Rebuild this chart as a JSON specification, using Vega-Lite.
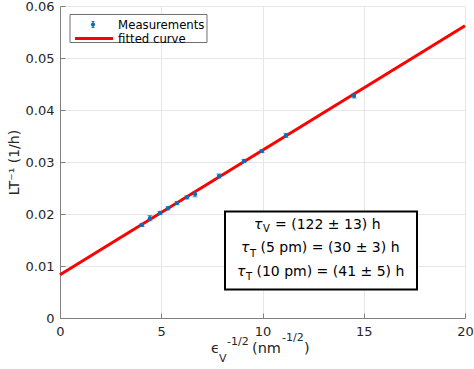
{
  "$schema": "https://vega.github.io/schema/vega-lite/v6.json",
  "width": 405,
  "height": 312,
  "autosize": {"type": "none"},
  "padding": {"left": 60, "top": 6, "right": 9, "bottom": 51},
  "background": "white",
  "config": {
    "font": "DejaVu Sans",
    "view": {"stroke": null},
    "axis": {
      "grid": true,
      "gridColor": "#e6e6e6",
      "domainColor": "#808080",
      "tickColor": "#808080",
      "tickSize": -5,
      "labelFontSize": 13,
      "labelColor": "#262626",
      "labelFlush": false,
      "labelOverlap": false,
      "titleFontSize": 14,
      "titleFontWeight": "normal",
      "titleColor": "#262626"
    }
  },
  "data": {"values": [
    {"x": 4.05, "y": 0.0179, "err": 0.0003},
    {"x": 4.44, "y": 0.0192, "err": 0.0005},
    {"x": 4.94, "y": 0.0202, "err": 0.0003},
    {"x": 5.33, "y": 0.0211, "err": 0.0003},
    {"x": 5.78, "y": 0.0221, "err": 0.0003},
    {"x": 6.27, "y": 0.0232, "err": 0.0003},
    {"x": 6.67, "y": 0.0238, "err": 0.0005},
    {"x": 7.85, "y": 0.0273, "err": 0.0004},
    {"x": 9.09, "y": 0.0302, "err": 0.0003},
    {"x": 9.98, "y": 0.0321, "err": 0.0003},
    {"x": 11.16, "y": 0.0351, "err": 0.0004},
    {"x": 14.52, "y": 0.0427, "err": 0.0004}
  ]},
  "layer": [
    {
      "data": {"values": [{"x": 0, "y": 0.0083}, {"x": 20, "y": 0.0562}]},
      "mark": {"type": "line", "color": "#ff0000", "strokeWidth": 3},
      "encoding": {
        "x": {"field": "x", "type": "quantitative", "scale": {"domain": [0, 20], "nice": false},
              "axis": {"values": [0, 5, 10, 15, 20], "title": null, "format": "~g", "labelPadding": 12}},
        "y": {"field": "y", "type": "quantitative", "scale": {"domain": [0, 0.06], "nice": false},
              "axis": {"values": [0, 0.01, 0.02, 0.03, 0.04, 0.05, 0.06], "title": "LT⁻¹ (1/h)", "format": "~g", "labelPadding": 11, "titlePadding": 4}}
      }
    },
    {
      "mark": {"type": "errorbar", "ticks": {"size": 5, "color": "#0072BD"}, "color": "#0072BD", "thickness": 1},
      "encoding": {
        "x": {"field": "x", "type": "quantitative", "title": null},
        "y": {"field": "y", "type": "quantitative", "title": "LT⁻¹ (1/h)"},
        "yError": {"field": "err"}
      }
    },
    {
      "mark": {"type": "point", "filled": true, "color": "#0072BD", "size": 18, "opacity": 1},
      "encoding": {
        "x": {"field": "x", "type": "quantitative", "title": null},
        "y": {"field": "y", "type": "quantitative", "title": "LT⁻¹ (1/h)"}
      }
    },
    {
      "data": {"values": [{}]},
      "mark": {"type": "rect", "fill": "white", "stroke": "#707070", "strokeWidth": 1},
      "encoding": {"x": {"datum": 0.494}, "x2": {"datum": 7.259}, "y": {"datum": 0.05837}, "y2": {"datum": 0.05298}}
    },
    {
      "data": {"values": [{}]},
      "mark": {"type": "rule", "color": "#ff0000", "strokeWidth": 3},
      "encoding": {"x": {"datum": 0.741}, "x2": {"datum": 2.617}, "y": {"datum": 0.05375}}
    },
    {
      "data": {"values": [{}]},
      "mark": {"type": "rule", "color": "#0072BD", "strokeWidth": 1},
      "encoding": {"x": {"datum": 1.63}, "y": {"datum": 0.05586}, "y2": {"datum": 0.05702}}
    },
    {
      "data": {"values": [{}]},
      "mark": {"type": "rule", "color": "#0072BD", "strokeWidth": 1},
      "encoding": {"x": {"datum": 1.56}, "x2": {"datum": 1.70}, "y": {"datum": 0.05586}}
    },
    {
      "data": {"values": [{}]},
      "mark": {"type": "rule", "color": "#0072BD", "strokeWidth": 1},
      "encoding": {"x": {"datum": 1.56}, "x2": {"datum": 1.70}, "y": {"datum": 0.05702}}
    },
    {
      "data": {"values": [{}]},
      "mark": {"type": "point", "filled": true, "color": "#0072BD", "size": 18, "opacity": 1},
      "encoding": {"x": {"datum": 1.63}, "y": {"datum": 0.05644}}
    },
    {
      "data": {"values": [{}]},
      "mark": {"type": "text", "text": "Measurements", "align": "left", "baseline": "middle", "fontSize": 11.7, "color": "#000000"},
      "encoding": {"x": {"datum": 2.87}, "y": {"datum": 0.05644}}
    },
    {
      "data": {"values": [{}]},
      "mark": {"type": "text", "text": "fitted curve", "align": "left", "baseline": "middle", "fontSize": 11.7, "color": "#000000"},
      "encoding": {"x": {"datum": 2.87}, "y": {"datum": 0.05375}}
    },
    {
      "data": {"values": [{}]},
      "mark": {"type": "rect", "fill": "white", "stroke": "#000000", "strokeWidth": 2},
      "encoding": {"x": {"datum": 8.148}, "x2": {"datum": 17.63}, "y": {"datum": 0.02048}, "y2": {"datum": 0.00548}}
    },
    {
      "data": {"values": [{}]},
      "mark": {"type": "text", "text": "τ", "align": "left", "baseline": "middle", "fontSize": 14, "fontStyle": "italic", "color": "#000000"},
      "encoding": {"x": {"datum": 9.58}, "y": {"datum": 0.01798}}
    },
    {
      "data": {"values": [{}]},
      "mark": {"type": "text", "text": "V", "align": "left", "baseline": "middle", "fontSize": 10, "color": "#000000"},
      "encoding": {"x": {"datum": 10.02}, "y": {"datum": 0.01702}}
    },
    {
      "data": {"values": [{}]},
      "mark": {"type": "text", "text": "= (122 ± 13) h", "align": "left", "baseline": "middle", "fontSize": 14, "color": "#000000"},
      "encoding": {"x": {"datum": 10.62}, "y": {"datum": 0.01798}}
    },
    {
      "data": {"values": [{}]},
      "mark": {"type": "text", "text": "τ", "align": "left", "baseline": "middle", "fontSize": 14, "fontStyle": "italic", "color": "#000000"},
      "encoding": {"x": {"datum": 8.94}, "y": {"datum": 0.01337}}
    },
    {
      "data": {"values": [{}]},
      "mark": {"type": "text", "text": "T", "align": "left", "baseline": "middle", "fontSize": 10, "color": "#000000"},
      "encoding": {"x": {"datum": 9.38}, "y": {"datum": 0.0124}}
    },
    {
      "data": {"values": [{}]},
      "mark": {"type": "text", "text": "(5 pm) = (30 ± 3) h", "align": "left", "baseline": "middle", "fontSize": 14, "color": "#000000"},
      "encoding": {"x": {"datum": 9.9}, "y": {"datum": 0.01337}}
    },
    {
      "data": {"values": [{}]},
      "mark": {"type": "text", "text": "τ", "align": "left", "baseline": "middle", "fontSize": 14, "fontStyle": "italic", "color": "#000000"},
      "encoding": {"x": {"datum": 8.74}, "y": {"datum": 0.00894}}
    },
    {
      "data": {"values": [{}]},
      "mark": {"type": "text", "text": "T", "align": "left", "baseline": "middle", "fontSize": 10, "color": "#000000"},
      "encoding": {"x": {"datum": 9.18}, "y": {"datum": 0.00798}}
    },
    {
      "data": {"values": [{}]},
      "mark": {"type": "text", "text": "(10 pm) = (41 ± 5) h", "align": "left", "baseline": "middle", "fontSize": 14, "color": "#000000"},
      "encoding": {"x": {"datum": 9.7}, "y": {"datum": 0.00894}}
    },
    {
      "data": {"values": [{}]},
      "mark": {"type": "text", "text": "ϵ", "align": "left", "baseline": "middle", "fontSize": 14, "color": "#262626"},
      "encoding": {"x": {"datum": 7.457}, "y": {"datum": -0.00587}}
    },
    {
      "data": {"values": [{}]},
      "mark": {"type": "text", "text": "V", "align": "left", "baseline": "middle", "fontSize": 11, "color": "#262626"},
      "encoding": {"x": {"datum": 7.852}, "y": {"datum": -0.00798}}
    },
    {
      "data": {"values": [{}]},
      "mark": {"type": "text", "text": "-1/2", "align": "left", "baseline": "middle", "fontSize": 11, "color": "#262626"},
      "encoding": {"x": {"datum": 8.247}, "y": {"datum": -0.00471}}
    },
    {
      "data": {"values": [{}]},
      "mark": {"type": "text", "text": "(nm", "align": "left", "baseline": "middle", "fontSize": 14.5, "color": "#262626"},
      "encoding": {"x": {"datum": 9.481}, "y": {"datum": -0.00587}}
    },
    {
      "data": {"values": [{}]},
      "mark": {"type": "text", "text": "-1/2", "align": "left", "baseline": "middle", "fontSize": 11, "color": "#262626"},
      "encoding": {"x": {"datum": 10.963}, "y": {"datum": -0.00394}}
    },
    {
      "data": {"values": [{}]},
      "mark": {"type": "text", "text": ")", "align": "left", "baseline": "middle", "fontSize": 14.5, "color": "#262626"},
      "encoding": {"x": {"datum": 12.049}, "y": {"datum": -0.00587}}
    }
  ]
}
